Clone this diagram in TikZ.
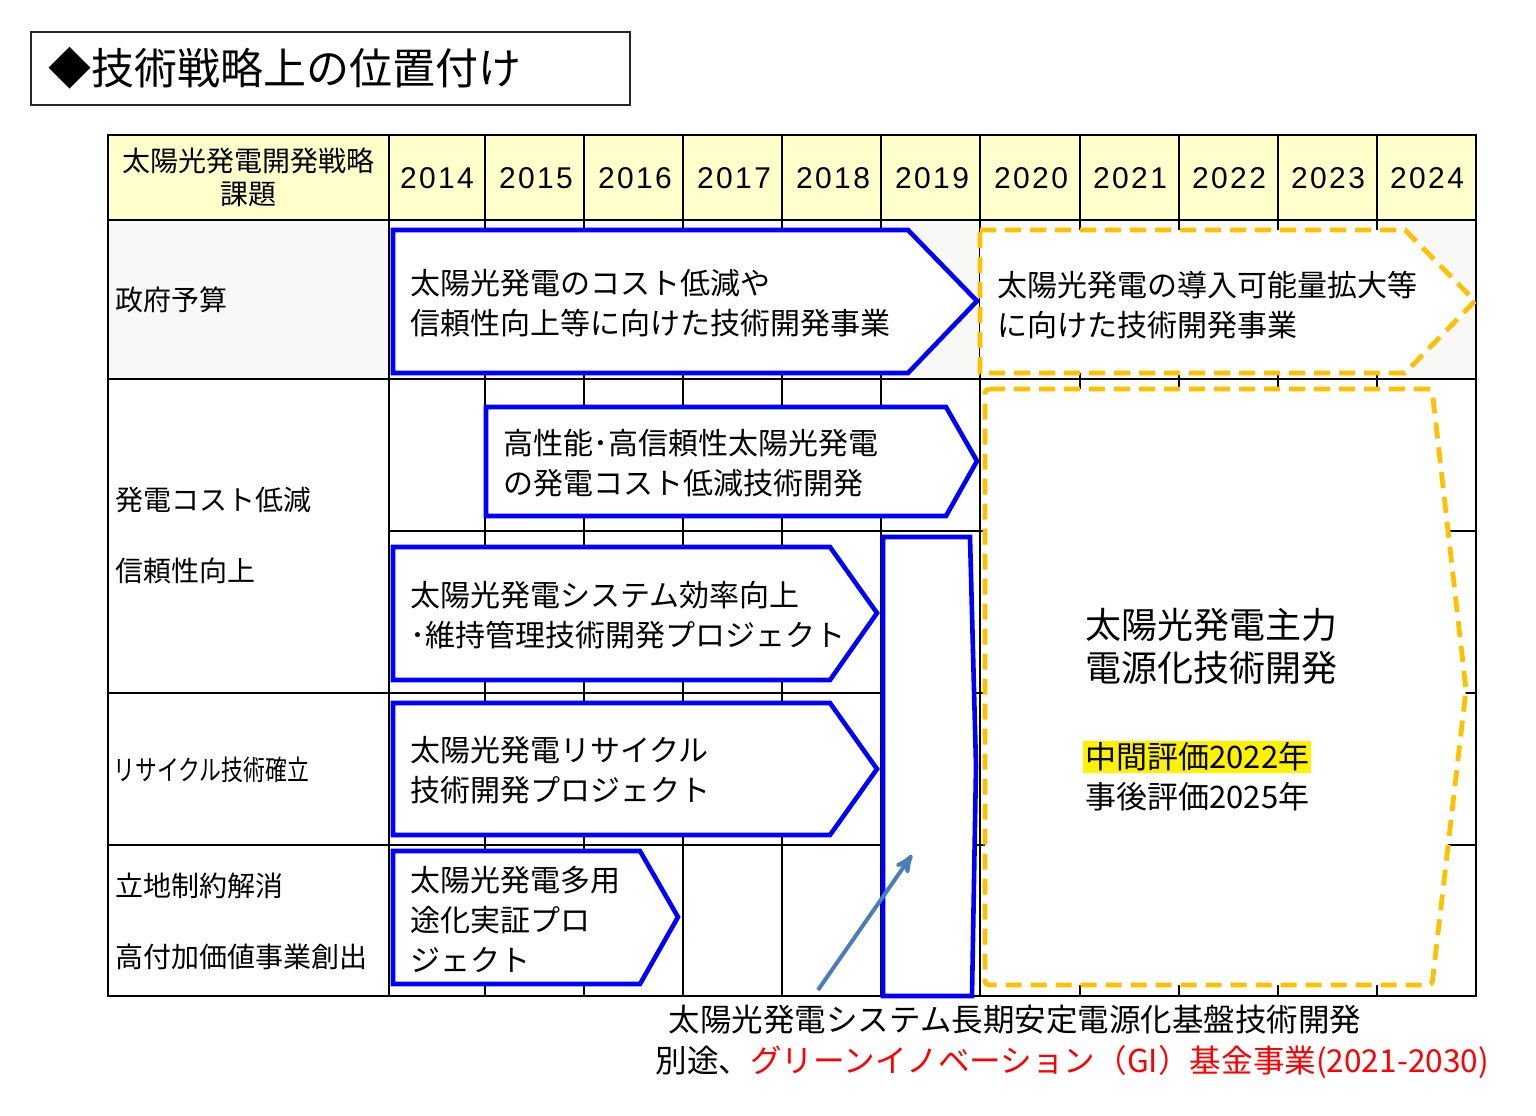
\documentclass[tikz,border=0pt]{standalone}
\usepackage{fontspec}
\setmainfont{Noto Sans CJK JP}
\newfontfamily\yrfont[LetterSpace=8]{Liberation Sans}
\newfontfamily\narrowjp[FakeStretch=0.78]{Noto Sans CJK JP}
\usetikzlibrary{arrows}
\definecolor{pvblue}{HTML}{0000FF}
\definecolor{pvgold}{HTML}{FFC000}
\definecolor{hdrfill}{HTML}{FFFFCC}
\definecolor{rowgray}{HTML}{F8F8F6}
\definecolor{ptrblue}{HTML}{4A7EBB}
\definecolor{gired}{HTML}{FF0000}

\begin{document}
\begin{tikzpicture}[x=0.5pt,y=-0.5pt,>=stealth',node distance=49.5pt,
	yr/.style={font=\yrfont\fontsize{15}{18}\selectfont},
	cell/.style={anchor=west,inner sep=0pt,font=\fontsize{14}{17}\selectfont},
	prj/.style={draw=pvblue,line width=2.3pt,fill=white},
	nxt/.style={draw=pvgold,line width=2.4pt,dash pattern=on 8pt off 4.5pt,fill=white},
	txt/.style={anchor=west,align=left,inner sep=0pt,font=\fontsize{15}{20}\selectfont}]

\useasboundingbox (0,0) rectangle (1536,1115);

\node[draw=black!85,line width=0.8pt,anchor=north west,minimum height=36.5pt,text width=281.5pt,
	inner xsep=9pt,font=\fontsize{21.5}{24}\selectfont]   (title) at (30,31)   {◆技術戦略上の位置付け};

% table
\fill[hdrfill] (108,135) rectangle (1476,220);
\fill[rowgray] (108,220) rectangle (1476,379);
\draw[line width=0.8pt] (108,135) rectangle (1476,996);
\draw[line width=0.7pt] (108,220) -- (1476,220)  (108,379) -- (1476,379)  (389,531) -- (1476,531)
	(108,693) -- (1476,693)  (108,845) -- (1476,845)
	(389,135) -- (389,996)  (485,135) -- (485,996)  (584,135) -- (584,996)  (683,135) -- (683,996)
	(782,135) -- (782,996)  (881,135) -- (881,996)  (980,135) -- (980,996)  (1080,135) -- (1080,996)
	(1179,135) -- (1179,996)  (1278,135) -- (1278,996)  (1377,135) -- (1377,996);

\node[align=center,inner sep=0pt,font=\fontsize{14}{16.5}\selectfont]   (task)   at (248,177)   {太陽光発電開発戦略\\課題};
\node[yr]   (y2014)   at (437,178)   {2014};
\node[yr]   (y2015)[right of=y2014]   {2015};
\node[yr]   (y2016)[right of=y2015]   {2016};
\node[yr]   (y2017)[right of=y2016]   {2017};
\node[yr]   (y2018)[right of=y2017]   {2018};
\node[yr]   (y2019)[right of=y2018]   {2019};
\node[yr]   (y2020)[right of=y2019]   {2020};
\node[yr]   (y2021)[right of=y2020]   {2021};
\node[yr]   (y2022)[right of=y2021]   {2022};
\node[yr]   (y2023)[right of=y2022]   {2023};
\node[yr]   (y2024)[right of=y2023]   {2024};

\node[cell]   (budget)   at (115,300)   {政府予算};
\node[cell]   (cost)     at (115,500)   {発電コスト低減};
\node[cell]   (rel)      at (115,571)   {信頼性向上};
\node[cell,font=\narrowjp\fontsize{14}{17}\selectfont]   (recyc)   at (113,770)   {リサイクル技術確立};
\node[cell]   (site)     at (115,886)   {立地制約解消};
\node[cell]   (value)    at (115,957)   {高付加価値事業創出};

% projects
\draw[prj] (393,230) -- (908,230) -- (977,301) -- (908,373) -- (393,373) -- cycle;
\draw[prj] (486,407) -- (946,407) -- (977,461) -- (946,516) -- (486,516) -- cycle;
\draw[prj] (393,547) -- (830,547) -- (877,613) -- (830,680) -- (393,680) -- cycle;
\draw[prj] (393,703) -- (830,703) -- (877,769) -- (830,835) -- (393,835) -- cycle;
\draw[prj] (393,851) -- (640,851) -- (678,917) -- (640,984) -- (393,984) -- cycle;
\draw[prj] (883,537) -- (970,537) -- (976,766) -- (972,996) -- (883,996) -- cycle;
\draw[nxt] (980,230) -- (1405,230) -- (1475,301) -- (1405,373) -- (980,373) -- cycle;
\draw[nxt,rounded corners=2pt] (985,389) -- (1432,389) -- (1466,690) -- (1432,985) -- (985,985) -- cycle;

\node[txt]   (p1)   at (410,303)   {太陽光発電のコスト低減や\\信頼性向上等に向けた技術開発事業};
\node[txt]   (p2)   at (997,305)   {太陽光発電の導入可能量拡大等\\に向けた技術開発事業};
\node[txt]   (p3)   at (503,463)   {高性能･高信頼性太陽光発電\\の発電コスト低減技術開発};
\node[txt]   (p4)   at (410,615)   {太陽光発電システム効率向上\\･維持管理技術開発プロジェクト};
\node[txt]   (p5)   at (410,770)   {太陽光発電リサイクル\\技術開発プロジェクト};
\node[txt]   (p6)   at (410,920)   {太陽光発電多用\\途化実証プロ\\ジェクト};
\node[txt,font=\fontsize{18}{21.5}\selectfont]   (p7)   at (1085,646)   {太陽光発電主力\\電源化技術開発};
\node[txt,fill=yellow,inner sep=1pt,font=\fontsize{15.5}{18}\selectfont]   (mid)   at (1083,757)   {中間評価2022年};
\node[txt,font=\fontsize{15.5}{18}\selectfont]   (post)   at (1085,797)   {事後評価2025年};

% notes below
\node[inner sep=0pt,font=\fontsize{15.75}{18}\selectfont]   (base)   at (1015,1020)   {太陽光発電システム長期安定電源化基盤技術開発};
\node[anchor=west,inner sep=0pt,font=\fontsize{15.8}{18}\selectfont]   (gi)   at (655,1062)
	{別途、\textcolor{gired}{グリーンイノベーション（GI）基金事業(2021-2030)}};

\coordinate (gifrom) at (818,990);
\coordinate (gito)   at (912,855);
\draw[->,ptrblue,line width=2pt] (gifrom) -- (gito);
\end{tikzpicture}
\end{document}
